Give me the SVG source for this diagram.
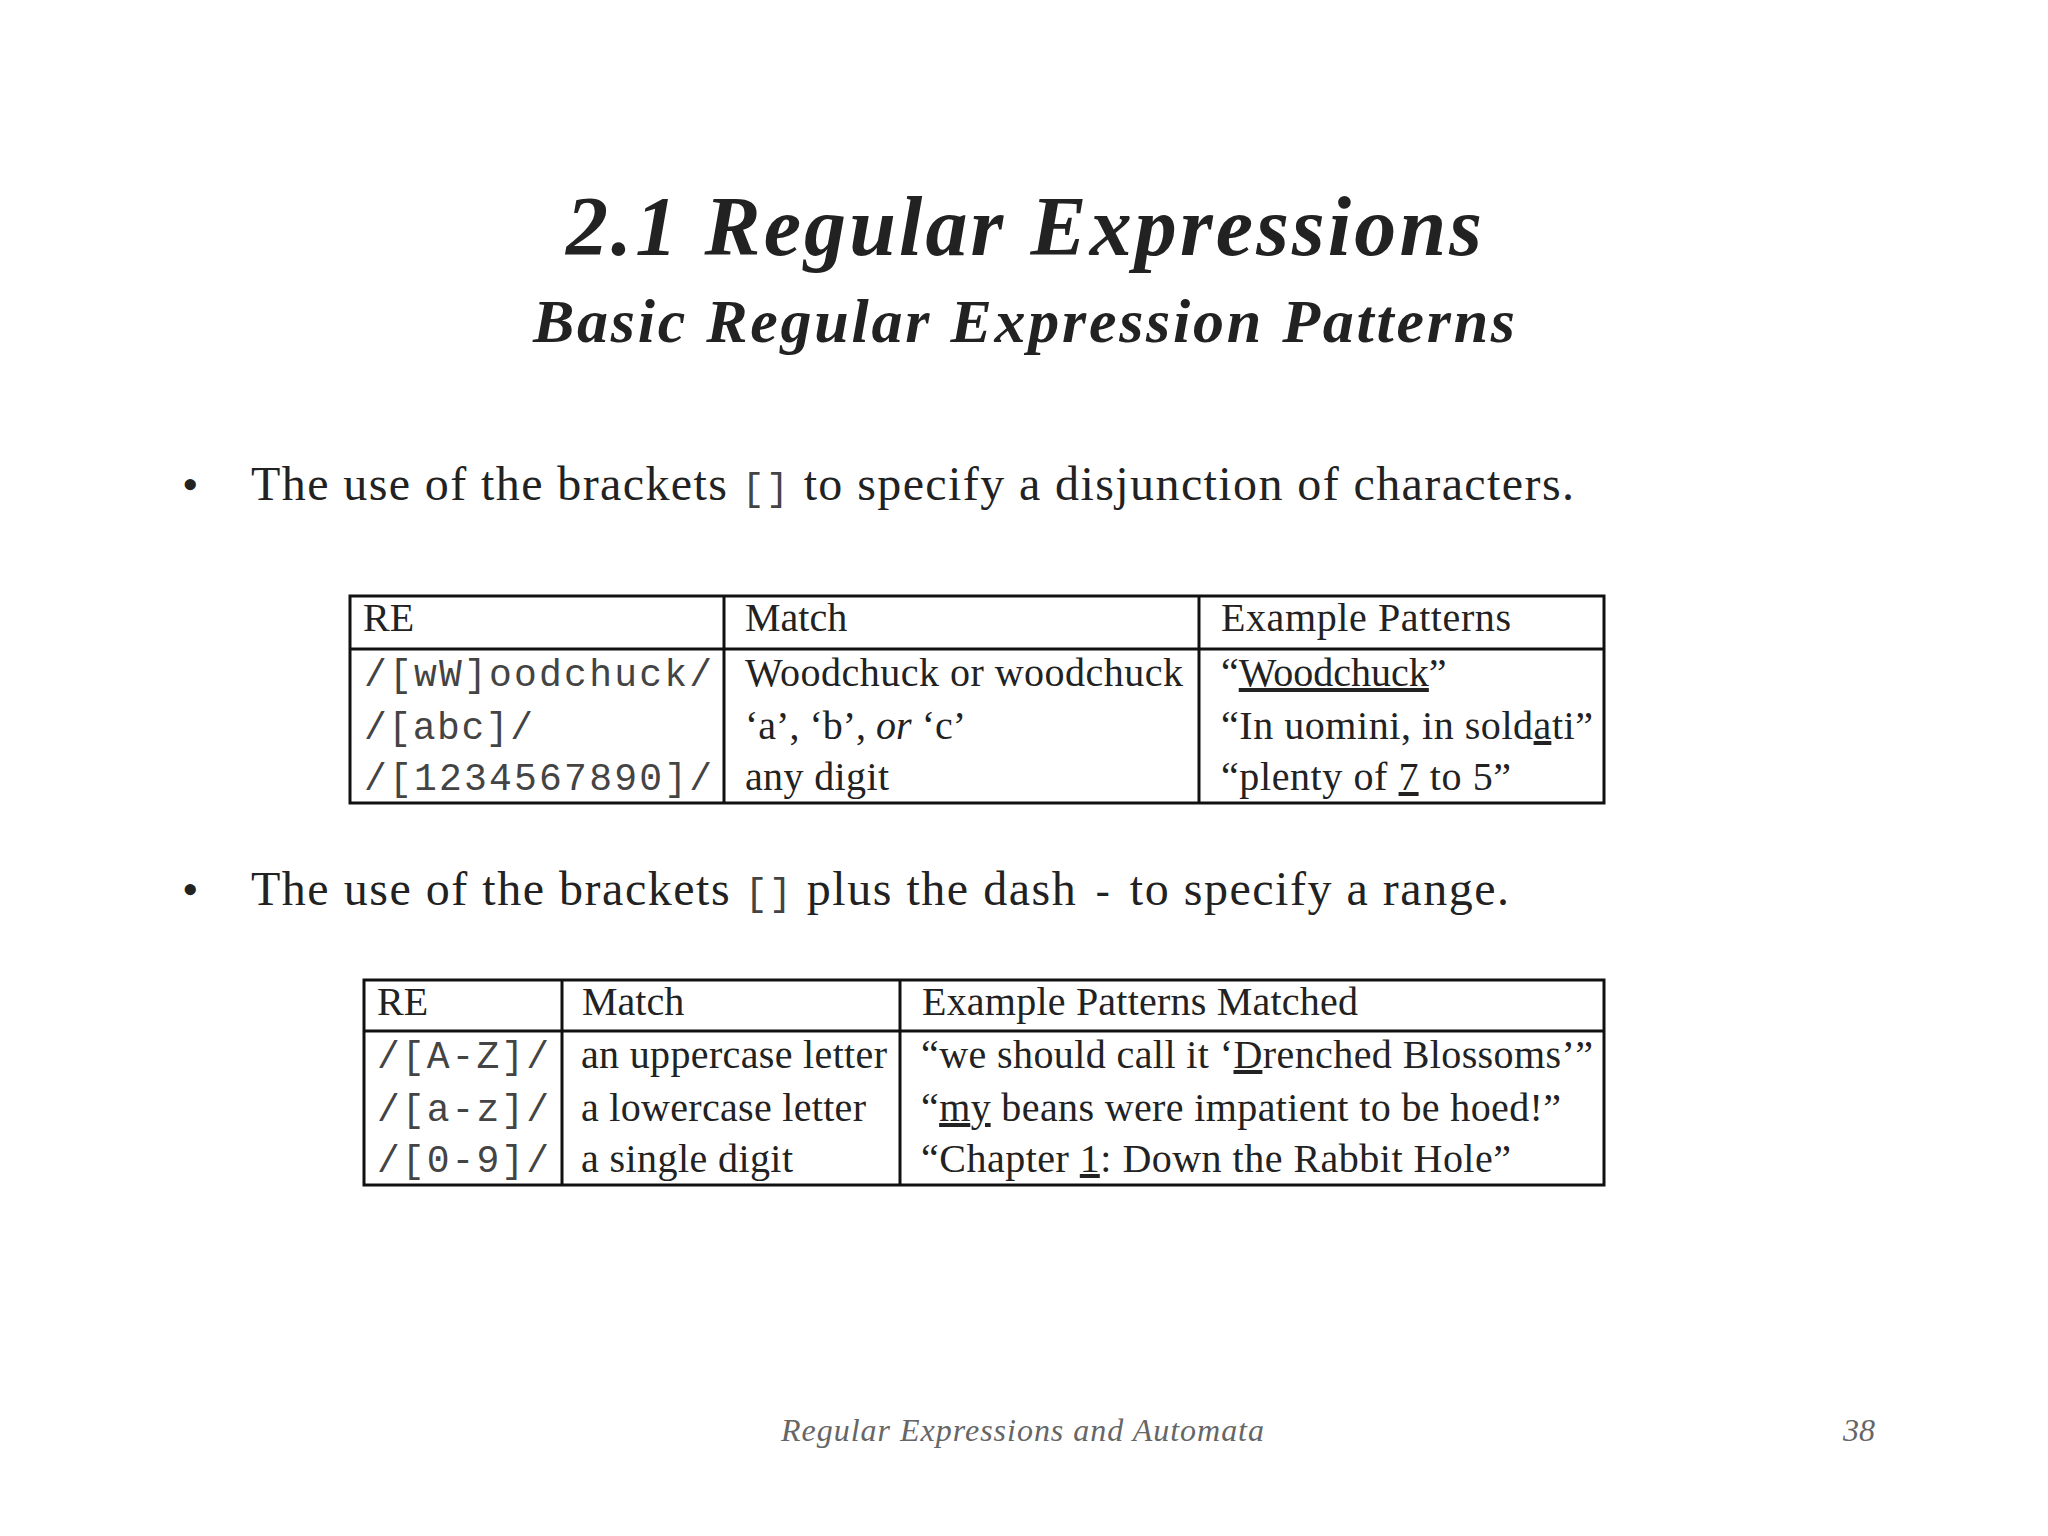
<svg xmlns="http://www.w3.org/2000/svg" width="2048" height="1536" viewBox="0 0 2048 1536">
<style>
.t{font-family:"Liberation Serif",serif;fill:#222}
.c{font-family:"Liberation Serif",serif;font-size:40px;fill:#222}
.m{font-family:"Liberation Mono",monospace;font-size:38px;fill:#444}
.ln{stroke:#111;stroke-width:3;fill:none}
.u{text-decoration:underline}
</style>
<rect width="2048" height="1536" fill="#fff"/>
<g id="title">
<text class="t" x="566" y="255" textLength="916" font-size="84" font-weight="bold" font-style="italic">2.1 Regular Expressions</text>
<text class="t" x="533" y="342" textLength="982" font-size="62" font-weight="bold" font-style="italic">Basic Regular Expression Patterns</text>
</g>
<g id="bullet1">
<text class="t" x="182" y="500" font-size="47">•</text>
<text class="t" x="251" y="500" font-size="48" textLength="1323">The use of the brackets <tspan font-family="Liberation Mono,monospace" font-size="38" fill="#444">[]</tspan> to specify a disjunction of characters.</text>
</g>
<g id="table1">
<rect class="ln" x="350" y="596" width="1254" height="207"/>
<line class="ln" x1="350" y1="649" x2="1604" y2="649"/>
<line class="ln" x1="724" y1="596" x2="724" y2="803"/>
<line class="ln" x1="1199" y1="596" x2="1199" y2="803"/>
<text class="c" x="363" y="631">RE</text>
<text class="c" x="745" y="631">Match</text>
<text class="c" x="1221" y="631" textLength="290">Example Patterns</text>
<text class="m" x="364" y="686" textLength="348">/[wW]oodchuck/</text>
<text class="m" x="364" y="739" textLength="169">/[abc]/</text>
<text class="m" x="364" y="790" textLength="348">/[1234567890]/</text>
<text class="c" x="745" y="686" textLength="438">Woodchuck or woodchuck</text>
<text class="c" x="745" y="739">‘a’, ‘b’, <tspan font-style="italic">or</tspan> ‘c’</text>
<text class="c" x="745" y="790" textLength="144">any digit</text>
<text class="c" x="1221" y="686">“<tspan class="u">Woodchuck</tspan>”</text>
<text class="c" x="1221" y="739" textLength="372">“In uomini, in sold<tspan class="u">a</tspan>ti”</text>
<text class="c" x="1221" y="790" textLength="290">“plenty of <tspan class="u">7</tspan> to 5”</text>
</g>
<g id="bullet2">
<text class="t" x="182" y="905" font-size="47">•</text>
<text class="t" x="251" y="905" font-size="48" textLength="1258">The use of the brackets <tspan font-family="Liberation Mono,monospace" font-size="38" fill="#444">[]</tspan> plus the dash <tspan font-family="Liberation Mono,monospace" font-size="40">-</tspan> to specify a range.</text>
</g>
<g id="table2">
<rect class="ln" x="364" y="980" width="1240" height="205"/>
<line class="ln" x1="364" y1="1031" x2="1604" y2="1031"/>
<line class="ln" x1="562" y1="980" x2="562" y2="1185"/>
<line class="ln" x1="900" y1="980" x2="900" y2="1185"/>
<text class="c" x="377" y="1015">RE</text>
<text class="c" x="582" y="1015">Match</text>
<text class="c" x="922" y="1015" textLength="436">Example Patterns Matched</text>
<text class="m" x="377" y="1068" textLength="172">/[A-Z]/</text>
<text class="m" x="377" y="1121" textLength="172">/[a-z]/</text>
<text class="m" x="377" y="1172" textLength="172">/[0-9]/</text>
<text class="c" x="581" y="1068" textLength="306">an uppercase letter</text>
<text class="c" x="581" y="1121" textLength="285">a lowercase letter</text>
<text class="c" x="581" y="1172" textLength="212">a single digit</text>
<text class="c" x="921" y="1068" textLength="672">“we should call it ‘<tspan class="u">D</tspan>renched Blossoms’”</text>
<text class="c" x="921" y="1121" textLength="640">“<tspan class="u">my</tspan> beans were impatient to be hoed!”</text>
<text class="c" x="921" y="1172" textLength="590">“Chapter <tspan class="u">1</tspan>: Down the Rabbit Hole”</text>
</g>
<g id="footer">
<text class="t" x="781" y="1441" textLength="483" font-size="32" font-style="italic" style="fill:#666">Regular Expressions and Automata</text>
<text class="t" x="1875" y="1441" text-anchor="end" font-size="32" font-style="italic" style="fill:#666">38</text>
</g>
</svg>
